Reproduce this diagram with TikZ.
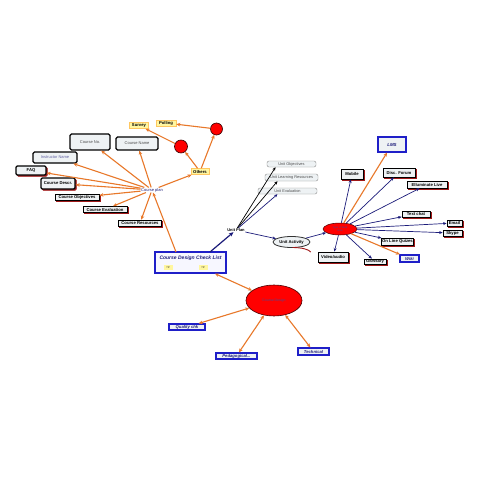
\documentclass[tikz,border=0pt]{standalone}
\usepackage{fontspec}
\setmainfont{Liberation Sans}
\usetikzlibrary{arrows.meta,shapes.geometric}
\definecolor{org}{HTML}{E8782A}
\definecolor{navy}{HTML}{1C1C7A}
\definecolor{boxfill}{HTML}{EEF2F4}
\definecolor{blu}{HTML}{1F1FC8}
\definecolor{yel}{HTML}{FFF6A0}
\definecolor{shred}{HTML}{A01818}
\tikzset{
  tx/.style={font=\fontsize{4.2}{5}\selectfont\bfseries, inner sep=0.5pt, align=center},
  redshadow/.style={preaction={draw=shred, fill=shred, line width=0.8pt, transform canvas={xshift=#1, yshift=-#1}}},
  blackbox/.style={tx, draw=black, line width=1.2pt, rounded corners=1.2pt, fill=boxfill, redshadow=1.3pt},
  thinbox/.style={tx, draw=black, line width=0.7pt, fill=boxfill, redshadow=1.1pt},
  bigbox/.style={tx, font=\fontsize{4}{5}\selectfont, text=black!70, draw=black, line width=1.3pt, rounded corners=1.5pt, fill=boxfill},
  yelbox/.style={tx, draw=yel!60!orange, line width=0.5pt, fill=yel,
     preaction={fill=orange!80, transform canvas={xshift=0.9pt, yshift=-0.9pt}}},
  blubox/.style={tx, text=navy, font=\fontsize{4.2}{5}\selectfont\bfseries\itshape, draw=blu, line width=1.1pt, fill=boxfill},
  unitbox/.style={tx, font=\fontsize{3.9}{5}\selectfont, text=black!70, draw=black!45, line width=0.4pt, rounded corners=2pt, fill=boxfill},
  redc/.style={circle, draw=black!80!red, line width=0.6pt, fill=red, inner sep=0pt},
  oa/.style={draw=org, line width=1.1pt, -{Stealth[length=4pt,width=3.5pt]}},
  oda/.style={draw=org, line width=1.1pt, {Stealth[length=4pt,width=3.5pt]}-{Stealth[length=4pt,width=3.5pt]}},
  na/.style={draw=navy, line width=0.7pt, -{Stealth[length=3.5pt,width=3pt]}},
  ka/.style={draw=black, line width=0.7pt, -{Stealth[length=3.5pt,width=3pt]}},
}
\begin{document}
\begin{tikzpicture}[x=1pt,y=-1pt]
\fill[white] (0,0) rectangle (481,481);
\useasboundingbox (0,0) rectangle (481,481);

% Course plan cluster
\node[tx, text=navy, font=\fontsize{4}{5}\selectfont] (cp) at (152,190) {Course plan};
\node[bigbox, minimum width=40pt, minimum height=16pt] (cno) at (90,142) {Course No.};
\node[bigbox, minimum width=42pt, minimum height=13pt] (cname) at (137,143.5) {Course Name};
\node[bigbox, minimum width=44pt, minimum height=11pt, text=navy!70] (iname) at (55,157.5) {Instructor Name};
\node[blackbox, minimum width=30pt, minimum height=9pt] (faq) at (31,170.5) {FAQ};
\node[blackbox, minimum width=34pt, minimum height=11pt] (cdesc) at (58,183.5) {Course Descr.};
\node[thinbox, minimum width=44pt, minimum height=6pt] (cobj) at (77,197.5) {Course Objectives};
\node[thinbox, minimum width=44pt, minimum height=6pt] (ceval) at (105,209.5) {Course Evaluation};
\node[thinbox, minimum width=43pt, minimum height=6pt] (cres) at (140,223) {Course Resources};
\node[yelbox, minimum width=18pt, minimum height=6pt] (oth) at (200,171.5) {Others};
\node[yelbox, minimum width=19pt, minimum height=6pt] (surv) at (139,125.5) {Survey};
\node[yelbox, minimum width=20pt, minimum height=6pt] (poll) at (166,123) {Polling};
\node[redc, minimum size=13pt] (rc1) at (181,146.5) {};
\node[redc, minimum size=12pt] (rc2) at (216.5,129) {};

\foreach \t in {cno,cname,iname,faq,cdesc,cobj,ceval,cres,oth} \draw[oa] (cp) -- (\t);
\draw[oa] (oth) -- (rc1);
\draw[oa] (oth) -- (rc2);
\draw[oa] (rc1) -- (surv);
\draw[oa] (rc2) -- (poll);

% Check list
\node[blubox, minimum width=71pt, minimum height=21pt, fill=blue!3, line width=1.3pt] (chk) at (190.5,262.5) {};
\node[tx, text=navy, font=\fontsize{5}{6}\selectfont\bfseries\itshape] (chkt) at (190.5,258.5) {Course Design Check List};
\node[tx, fill=yel, font=\fontsize{2.5}{3}\selectfont, minimum width=9pt, minimum height=4.5pt] (tg1) at (168,267.5) {?\,P};
\node[tx, fill=yel, font=\fontsize{2.5}{3}\selectfont, minimum width=9pt, minimum height=4.5pt] (tg2) at (203,267.5) {?\,P};
\coordinate (chkA) at (176,252);
\draw[oa] (chkA) -- (cp);

% Big red ellipse
\node[ellipse, draw=black!70!red, line width=0.6pt, fill=red, minimum width=56pt, minimum height=31pt, inner sep=0pt, text=navy!80, font=\fontsize{3.5}{4}\selectfont] (bell) at (274,300.5) {Course Design};
\node[blubox, minimum width=36pt, minimum height=6pt] (qual) at (187,327) {Quality chk};
\node[blubox, minimum width=41pt, minimum height=6pt] (ped) at (236.5,356) {Pedagogical...};
\node[blubox, minimum width=31pt, minimum height=7pt] (tech) at (313.5,351.5) {Technical};
\draw[oda] (chk) -- (bell);
\draw[oda] (bell) -- (qual);
\draw[oda] (bell) -- (ped);
\draw[oda] (bell) -- (tech);

% Unit plan
\node[tx, font=\fontsize{4}{5}\selectfont\bfseries] (up) at (236,230) {Unit Plan};
\coordinate (chkB) at (210,252);
\draw[draw=navy, line width=1.2pt, -{Stealth[length=4.5pt,width=4pt]}] (chkB) -- (up);
\node[unitbox, minimum width=49pt, minimum height=6pt] (uobj) at (291.5,164) {Unit Objectives};
\node[unitbox, minimum width=53pt, minimum height=7pt] (ulr) at (291.5,177.5) {Unit Learning Resources};
\node[unitbox, minimum width=59pt, minimum height=6pt] (ueval) at (287.5,191) {Unit Evaluation};
\draw[ka] (up) -- ([xshift=-16pt]uobj.south);
\draw[ka] (up) -- ([xshift=-14pt]ulr.south);
\draw[na] (up) -- ([xshift=-10pt]ueval.south);
\node[ellipse, draw=black!80, line width=0.8pt, fill=boxfill, minimum width=37pt, minimum height=11pt, inner sep=0pt, tx] (uact) at (291.5,242) {Unit Activity};
\draw[draw=shred, line width=0.9pt] ([xshift=1pt,yshift=0.4pt]uact.south) arc[start angle=270, end angle=350, x radius=18.5pt, y radius=-5.5pt];
\draw[na] (up) -- (uact);

% web tools
\node[ellipse, draw=black!70!red, line width=0.5pt, fill=red, minimum width=34pt, minimum height=12pt, inner sep=0pt, align=center, text=navy!80, font=\fontsize{2.6}{2.8}\selectfont] (tw) at (340,229) {Type of Web\\ tools};
\draw[na] (uact) -- (tw);
\node[blubox, font=\fontsize{4.4}{5}\selectfont\bfseries\itshape, minimum width=28pt, minimum height=15pt] (lms) at (392,144.5) {LMS};
\node[thinbox, line width=0.9pt, minimum width=22pt, minimum height=10pt] (mob) at (352,174) {Mobile};
\node[thinbox, line width=0.9pt, minimum width=32pt, minimum height=9pt] (disc) at (399,172.5) {Disc. Forum};
\node[thinbox, minimum width=40pt, minimum height=7pt] (ell) at (427,184.5) {Elluminate Live};
\node[thinbox, minimum width=28pt, minimum height=6pt] (chat) at (416,214) {Text chat};
\node[thinbox, minimum width=15pt, minimum height=6pt] (email) at (454.5,223) {Email};
\node[thinbox, minimum width=19pt, minimum height=6pt] (skype) at (452.5,233) {Skype};
\node[thinbox, minimum width=29pt, minimum height=7pt] (quiz) at (397.5,241.5) {On Line Quizes};
\node[blubox, minimum width=19pt, minimum height=7pt] (wiki) at (409.5,258.5) {Wiki};
\node[thinbox, minimum width=22pt, minimum height=5pt] (glos) at (375,261.5) {Glossary};
\node[thinbox, line width=0.9pt, minimum width=30pt, minimum height=10pt] (vid) at (333,257) {Video/audio};
\draw[oa] (tw) -- (lms);
\draw[oa] (tw) -- (wiki);
\foreach \t in {mob,disc,ell,chat,email,skype,quiz,glos,vid} \draw[na] (tw) -- (\t);
\end{tikzpicture}
\end{document}
